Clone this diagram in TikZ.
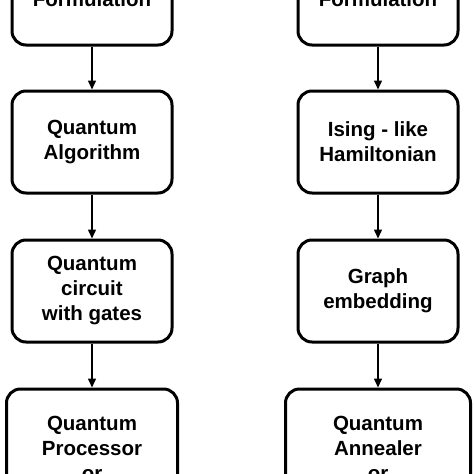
\documentclass[tikz,border=0pt]{standalone}
\usepackage{fontspec}
\setmainfont{Liberation Sans}
\usetikzlibrary{arrows.meta}

\begin{document}
\begin{tikzpicture}[
  stage/.style={draw, line width=3pt, rounded corners=14pt,
    minimum width=160pt, minimum height=102pt, align=center, inner sep=0pt,
    font=\fontsize{20.5}{25}\selectfont\bfseries},
  flow/.style={-{Triangle[length=9pt,width=8pt]}, line width=1.5pt}
]

  \newcommand\XL{92pt};
  \newcommand\XR{378pt};
  \newcommand\YA{6pt};
  \newcommand\YB{-142pt};
  \newcommand\YC{-291pt};
  \newcommand\YD{-448pt};

  \useasboundingbox (0,0) rectangle (474pt,-474pt);
  \clip (0,0) rectangle (474pt,-474pt);

  % gate model
  \node[stage] (formG) at (\XL, \YA) {\mbox{}\\Formulation};
  \node[stage] (algo) at (\XL, \YB) {Quantum\\Algorithm};
  \node[stage] (circ) at (\XL, \YC) {Quantum\\circuit\\with gates};
  \node[stage, minimum width=171pt, minimum height=118pt] (proc) at (\XL, \YD)
  {Quantum\\Processor\\or};

  % annealing
  \node[stage] (formA) at (\XR, \YA) {\mbox{}\\Formulation};
  \node[stage] (ising) at (\XR, \YB) {Ising - like\\Hamiltonian};
  \node[stage] (embed) at (\XR, \YC) {Graph\\embedding};
  \node[stage, minimum width=185pt, minimum height=118pt] (anneal) at (\XR, \YD)
  {Quantum\\Annealer\\or};

  \draw[flow] (formG) -- (algo);
  \draw[flow] (algo) -- (circ);
  \draw[flow] (circ) -- (proc);

  \draw[flow] (formA) -- (ising);
  \draw[flow] (ising) -- (embed);
  \draw[flow] (embed) -- (anneal);

\end{tikzpicture}
\end{document}
